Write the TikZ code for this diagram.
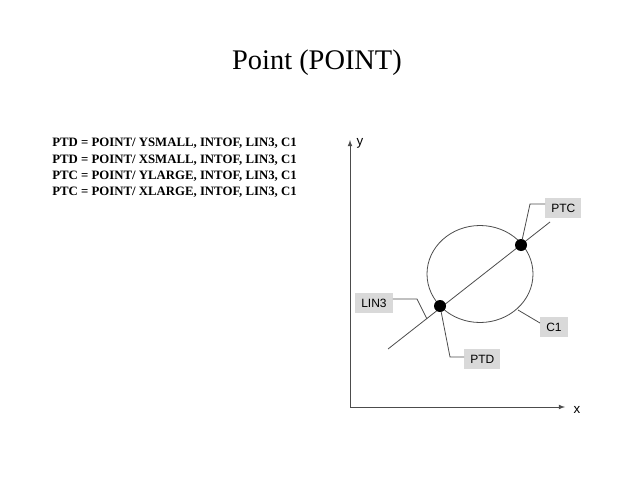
\documentclass[tikz,border=0pt]{standalone}
\usepackage{fontspec}
\setmainfont{Liberation Serif}
\newfontfamily\lsans{Liberation Sans}
\begin{document}
\begin{tikzpicture}[x=0.75pt,y=-0.75pt,
  lbl/.style={fill=black!15,font=\lsans\fontsize{9}{10}\selectfont,minimum height=15pt,inner xsep=4.5pt,anchor=west},
  ln/.style={draw=black!70,line width=0.6pt},
  dotp/.style={circle,fill=black,inner sep=0pt,minimum size=9pt}]
\useasboundingbox (0,0) rectangle (638,478);
\node (title) at (317,63) {\fontsize{21.3}{24}\selectfont Point (POINT)};
\node[anchor=north west,align=left,font=\bfseries\fontsize{9.6}{12.3}\selectfont,inner sep=0pt] (code) at (52,138)
 {PTD = POINT/ YSMALL, INTOF, LIN3, C1\\PTD = POINT/ XSMALL, INTOF, LIN3, C1\\PTC = POINT/ YLARGE, INTOF, LIN3, C1\\PTC = POINT/ XLARGE, INTOF, LIN3, C1};
\coordinate (o) at (350,407);
\coordinate (ytip) at (350,140);
\coordinate (xtip) at (565,407);
\draw[ln,-latex] (o) -- (ytip);
\draw[ln,-latex] (o) -- (xtip);
\node[font=\lsans\fontsize{10}{10}\selectfont] (yl) at (360,143) {y};
\node[font=\lsans\fontsize{10}{10}\selectfont] (xl) at (577,410) {x};
\draw[ln] (480,274) ellipse [x radius=53,y radius=48.5];
\coordinate (l1) at (388,349);
\coordinate (l2) at (550,222);
\draw[ln] (l1) -- (l2);
\node[dotp] (ptd) at (440,306) {};
\node[dotp] (ptc) at (521,245) {};
\node[lbl] (ptcl) at (545,208) {PTC};
\node[lbl] (lin) at (355,303) {LIN3};
\node[lbl] (c1) at (540,327) {C1};
\node[lbl] (ptdl) at (464,359) {PTD};
\draw[ln] (ptc) -- (530,204) -- (ptcl.west |- 0,204);
\draw[ln] (lin.east |- 0,299) -- (417,299) -- (427,319);
\draw[ln] (518,310) -- (c1.west |- 0,323);
\draw[ln] (ptd) -- (450,357) -- (ptdl.west |- 0,357);
\end{tikzpicture}
\end{document}
